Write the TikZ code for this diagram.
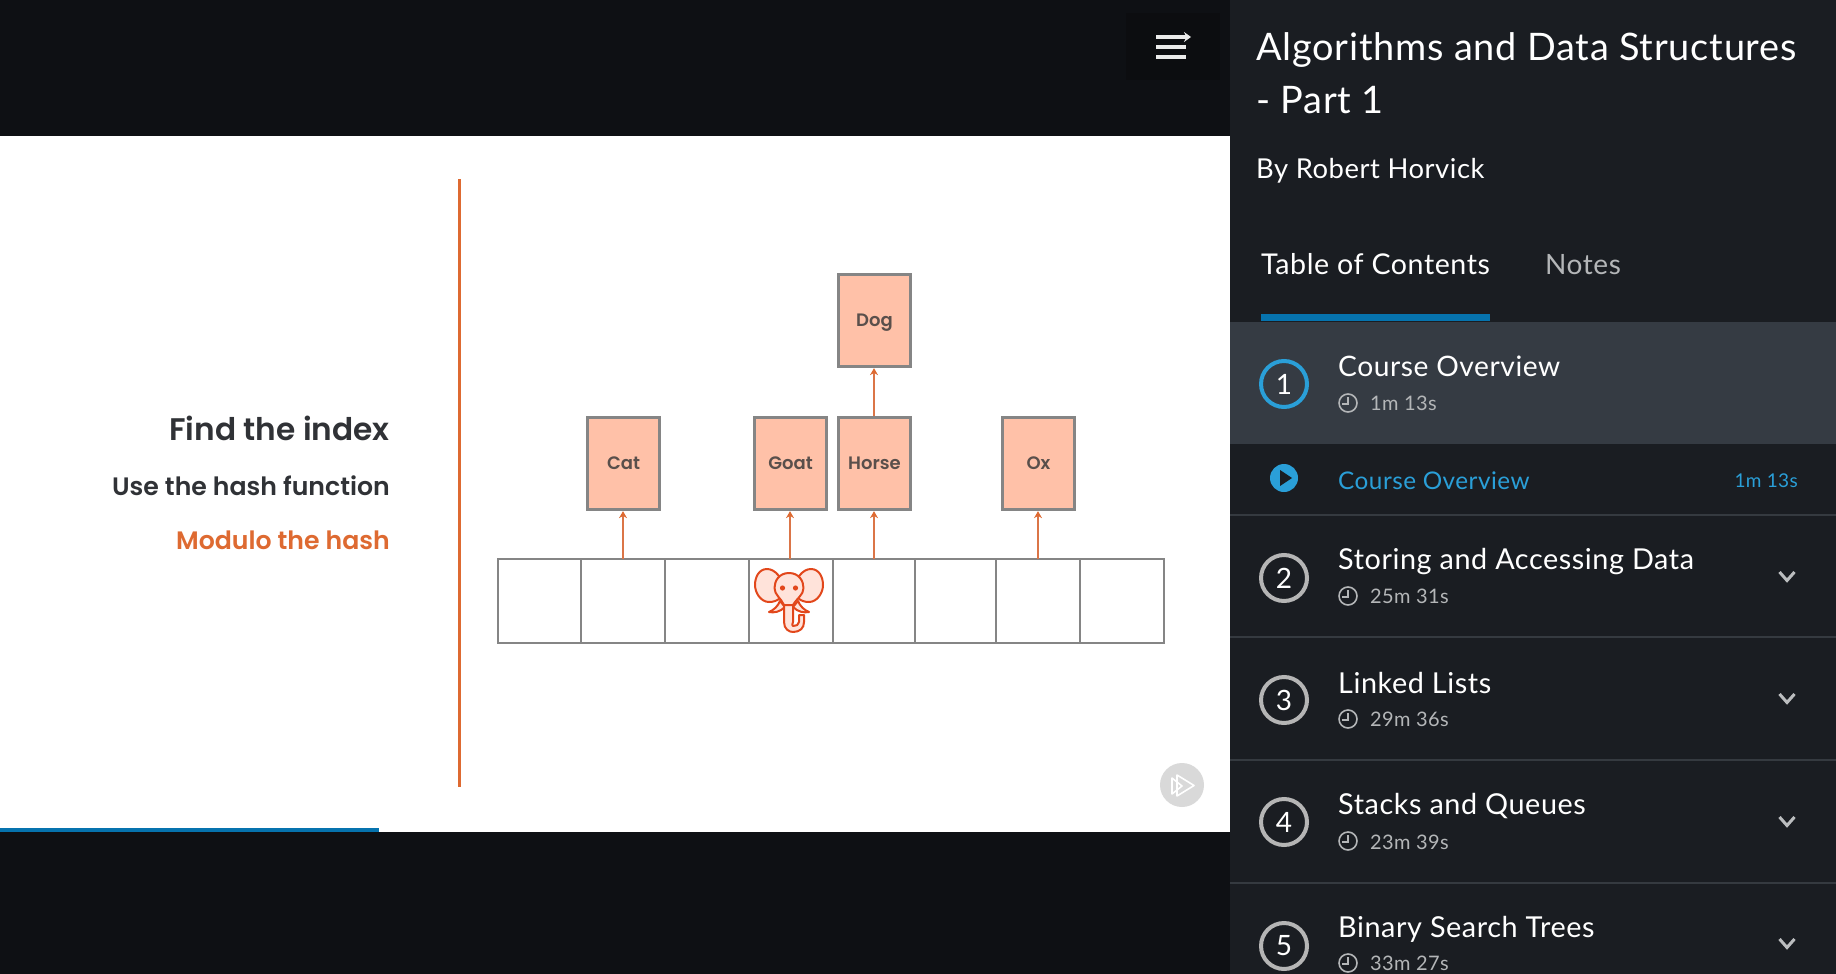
\documentclass[tikz,border=0pt]{standalone}
\usepackage{fontspec}
\setmainfont{Lato}
\newfontfamily\uifont[LetterSpace=2.0]{Lato}
\newfontfamily\slidefont[BoldFont={* SemiBold}]{Poppins}
\usetikzlibrary{arrows.meta}
\definecolor{topbg}{HTML}{0E1014}
\definecolor{btnbg}{HTML}{0C0D10}
\definecolor{panel}{HTML}{1A1D22}
\definecolor{rowhi}{HTML}{353B43}
\definecolor{sep}{HTML}{353A40}
\definecolor{accent}{HTML}{2A9FD8}
\definecolor{tabblue}{HTML}{0673AE}
\definecolor{orng}{HTML}{DE6A31}
\definecolor{arrowc}{HTML}{DB7547}
\definecolor{peach}{HTML}{FFC1A8}
\definecolor{boxedge}{HTML}{858585}
\definecolor{boxtxt}{HTML}{5A4F4B}
\definecolor{slidetxt}{HTML}{303236}
\definecolor{grytxt}{HTML}{B4B6B8}
\definecolor{ringgray}{HTML}{B5B5B5}
\definecolor{elephant}{HTML}{E2471B}
\definecolor{elefill}{HTML}{FFE3DA}
\tikzset{x=1pt,y=-1pt,
 binbox/.style={draw=boxedge,line width=2.8pt,fill=peach,minimum width=72.5pt,minimum height=92.5pt,inner sep=0pt,text height=11pt,text depth=0pt,font=\slidefont\bfseries\fontsize{18}{18}\selectfont,text=boxtxt},
 arrowline/.style={draw=arrowc,line width=1.8pt,-{Stealth[length=7pt,width=8pt,color=orng]}},
 cell/.style={draw=boxedge,line width=2.7pt},
 slidetext/.style={anchor=base east,inner sep=0pt,text=slidetxt,font=\slidefont\bfseries\fontsize{25.2}{26}\selectfont},
 ttl/.style={anchor=base west,text=white,inner sep=0pt,font=\uifont\fontsize{28.8}{29}\selectfont},
 dur/.style={anchor=base west,text=grytxt,inner sep=0pt,font=\uifont\fontsize{20}{20}\selectfont},
 num/.style={circle,draw=ringgray,line width=4pt,minimum size=46pt,inner sep=0pt,text=white,font=\uifont\fontsize{28}{28}\selectfont},
 sepline/.style={draw=sep,line width=1.2pt},
 clockicon/.style={draw=grytxt,line width=1.6pt},
 chev/.style={draw=grytxt!90,line width=3pt},
}
\newcommand{\clockat}[2]{%
 \draw[clockicon] (#1,#2) circle[radius=9];
 \draw[clockicon] (#1,#2-6) -- (#1,#2+1) -- (#1-6,#2+1);}
\newcommand{\chevat}[2]{\draw[chev] (#1-7.5,#2-5) -- (#1,#2+3.5) -- (#1+7.5,#2-5);}
\begin{document}
\begin{tikzpicture}
\useasboundingbox (0,0) rectangle (1836,974);
\fill[topbg] (0,0) rectangle (1836,974);
% slide
\fill[white] (0,136) rectangle (1230,832);
\fill[tabblue] (0,828) rectangle (379,832);
% menu icon
\fill[btnbg] (1126,13) rectangle (1220,80);
\draw[white!92!black,line width=3.2pt] (1156,47) -- (1186,47) (1156,57) -- (1186,57);
\draw[white!92!black,line width=3.2pt,-{Stealth[length=7pt,width=10pt]}] (1156,37) -- (1191,37);
% left slide text
\node[slidetext,font=\slidefont\bfseries\fontsize{31.2}{32}\selectfont] (t1) at (390,440) {Find the index};
\node[slidetext] (t2) at (390,495) {Use the hash function};
\node[slidetext,text=orng] (t3) at (390,549) {Modulo the hash};
\draw[orng,line width=2.2pt] (459.5,179) -- (459.5,787);
% array
\draw[cell] (498,559) rectangle (1164,643);
\foreach \x in {581,665,749,833,915,996,1080} \draw[cell] (\x,559) -- (\x,643);
% boxes
\node[binbox] (cat) at (623.5,463.5) {Cat};
\node[binbox] (goat) at (790.5,463.5) {Goat};
\node[binbox] (horse) at (874.5,463.5) {Horse};
\node[binbox] (ox) at (1038.5,463.5) {Ox};
\node[binbox] (dog) at (874.5,320.5) {Dog};
\coordinate (c1) at (623,559);
\coordinate (c2) at (790,559);
\coordinate (c3) at (874,559);
\coordinate (c4) at (1038,559);
\draw[arrowline] (c1) -- (c1 |- cat.south);
\draw[arrowline] (c2) -- (c2 |- goat.south);
\draw[arrowline] (c3) -- (c3 |- horse.south);
\draw[arrowline] (c4) -- (c4 |- ox.south);
\draw[arrowline] (c3 |- horse.north) -- (c3 |- dog.south);
% elephant
\begin{scope}[shift={(789,598)}]
 \begin{scope}[draw=elephant,fill=elefill,line width=2pt,line join=round]
 \filldraw (-10,-22) .. controls (-14,-27) and (-18,-29) .. (-22,-29) .. controls (-30,-29) and (-34,-21) .. (-34,-13) .. controls (-34,-5) and (-28,4) .. (-20,4) .. controls (-16,4) and (-12,3) .. (-9,0) -- cycle;
 \filldraw (10,-22) .. controls (14,-27) and (18,-29) .. (22,-29) .. controls (30,-29) and (34,-21) .. (34,-13) .. controls (34,-5) and (28,4) .. (20,4) .. controls (16,4) and (12,3) .. (9,0) -- cycle;
 \filldraw (-4,9) .. controls (-9,14) and (-15,15) .. (-20,14) .. controls (-15,12) and (-11,8) .. (-9,3) -- cycle;
 \filldraw (4,9) .. controls (9,14) and (15,15) .. (20,14) .. controls (15,12) and (11,8) .. (9,3) -- cycle;
 \filldraw (-5,6) -- (-5,24) .. controls (-5,31) and (0,34) .. (4,34) .. controls (11,34) and (15,30) .. (15,24) -- (15,17) -- (10,17) -- (10,24) .. controls (10,27) and (7,28) .. (4,28) .. controls (2,28) and (4,26) .. (4,24) -- (4,6) -- cycle;
 \filldraw (0,-25) .. controls (-10,-25) and (-14.5,-17) .. (-14.5,-10) .. controls (-14.5,-3) and (-8,0) .. (-5,7) -- (4,7) .. controls (8,0) and (14.5,-3) .. (14.5,-10) .. controls (14.5,-17) and (10,-25) .. (0,-25) -- cycle;
 \end{scope}
 \fill[elephant] (-6.5,-10) circle[radius=2.6] (6.5,-10) circle[radius=2.6];
\end{scope}
% watermark
\fill[black!15] (1182,785) circle[radius=22];
\draw[white,line width=1.6pt,line join=round] (1172,778) -- (1172,794) -- (1182,786) -- cycle (1177,775) -- (1177,796) -- (1194,785.5) -- cycle;
% right panel
\fill[panel] (1230,0) rectangle (1836,974);
\node[ttl,font=\uifont\fontsize{37.9}{38}\selectfont] (title1) at (1256,61) {Algorithms and Data Structures};
\node[ttl,font=\uifont\fontsize{37.9}{38}\selectfont] (title2) at (1256,113) {- Part 1};
\node[ttl,font=\uifont\fontsize{27.4}{28}\selectfont] (by) at (1256,178) {By Robert Horvick};
\node[ttl,font=\uifont\fontsize{28.6}{29}\selectfont] (toc) at (1261,274) {Table of Contents};
\node[ttl,text=grytxt,font=\uifont\fontsize{28}{28}\selectfont] (notes) at (1545,274) {Notes};
\fill[tabblue] (1261,314) rectangle (1490,321);
% row 1
\fill[rowhi] (1230,322) rectangle (1836,444);
\node[num,draw=accent] (n1) at (1284,384) {1};
\node[ttl,font=\uifont\fontsize{28.2}{29}\selectfont] (r1) at (1338,376) {Course Overview};
\clockat{1348}{403}
\node[dur] (d1) at (1370,410) {1m 13s};
% sub row
\fill[accent] (1284,478) circle[radius=14];
\fill[panel] (1280,470) -- (1280,486) -- (1292,478) -- cycle;
\node[ttl,text=accent,font=\uifont\fontsize{24.3}{25}\selectfont] (sub) at (1338,489) {Course Overview};
\node[anchor=base east,inner sep=0pt,text=accent,font=\uifont\fontsize{19}{19}\selectfont] (subd) at (1798,487) {1m 13s};
\draw[sepline] (1230,515) -- (1836,515);
% row 2
\node[num] (n2) at (1284,578) {2};
\node[ttl] (r2) at (1338,569) {Storing and Accessing Data};
\clockat{1348}{596}
\node[dur] (d2) at (1370,603) {25m 31s};
\chevat{1787}{577}
\draw[sepline] (1230,637) -- (1836,637);
% row 3
\node[num] (n3) at (1284,700) {3};
\node[ttl] (r3) at (1338,693) {Linked Lists};
\clockat{1348}{719}
\node[dur] (d3) at (1370,726) {29m 36s};
\chevat{1787}{699}
\draw[sepline] (1230,760) -- (1836,760);
% row 4
\node[num] (n4) at (1284,822) {4};
\node[ttl] (r4) at (1338,814) {Stacks and Queues};
\clockat{1348}{841}
\node[dur] (d4) at (1370,849) {23m 39s};
\chevat{1787}{822}
\draw[sepline] (1230,883) -- (1836,883);
% row 5
\node[num] (n5) at (1284,946) {5};
\node[ttl] (r5) at (1338,937) {Binary Search Trees};
\clockat{1348}{963}
\node[dur] (d5) at (1370,970) {33m 27s};
\chevat{1787}{944}
\end{tikzpicture}
\end{document}
